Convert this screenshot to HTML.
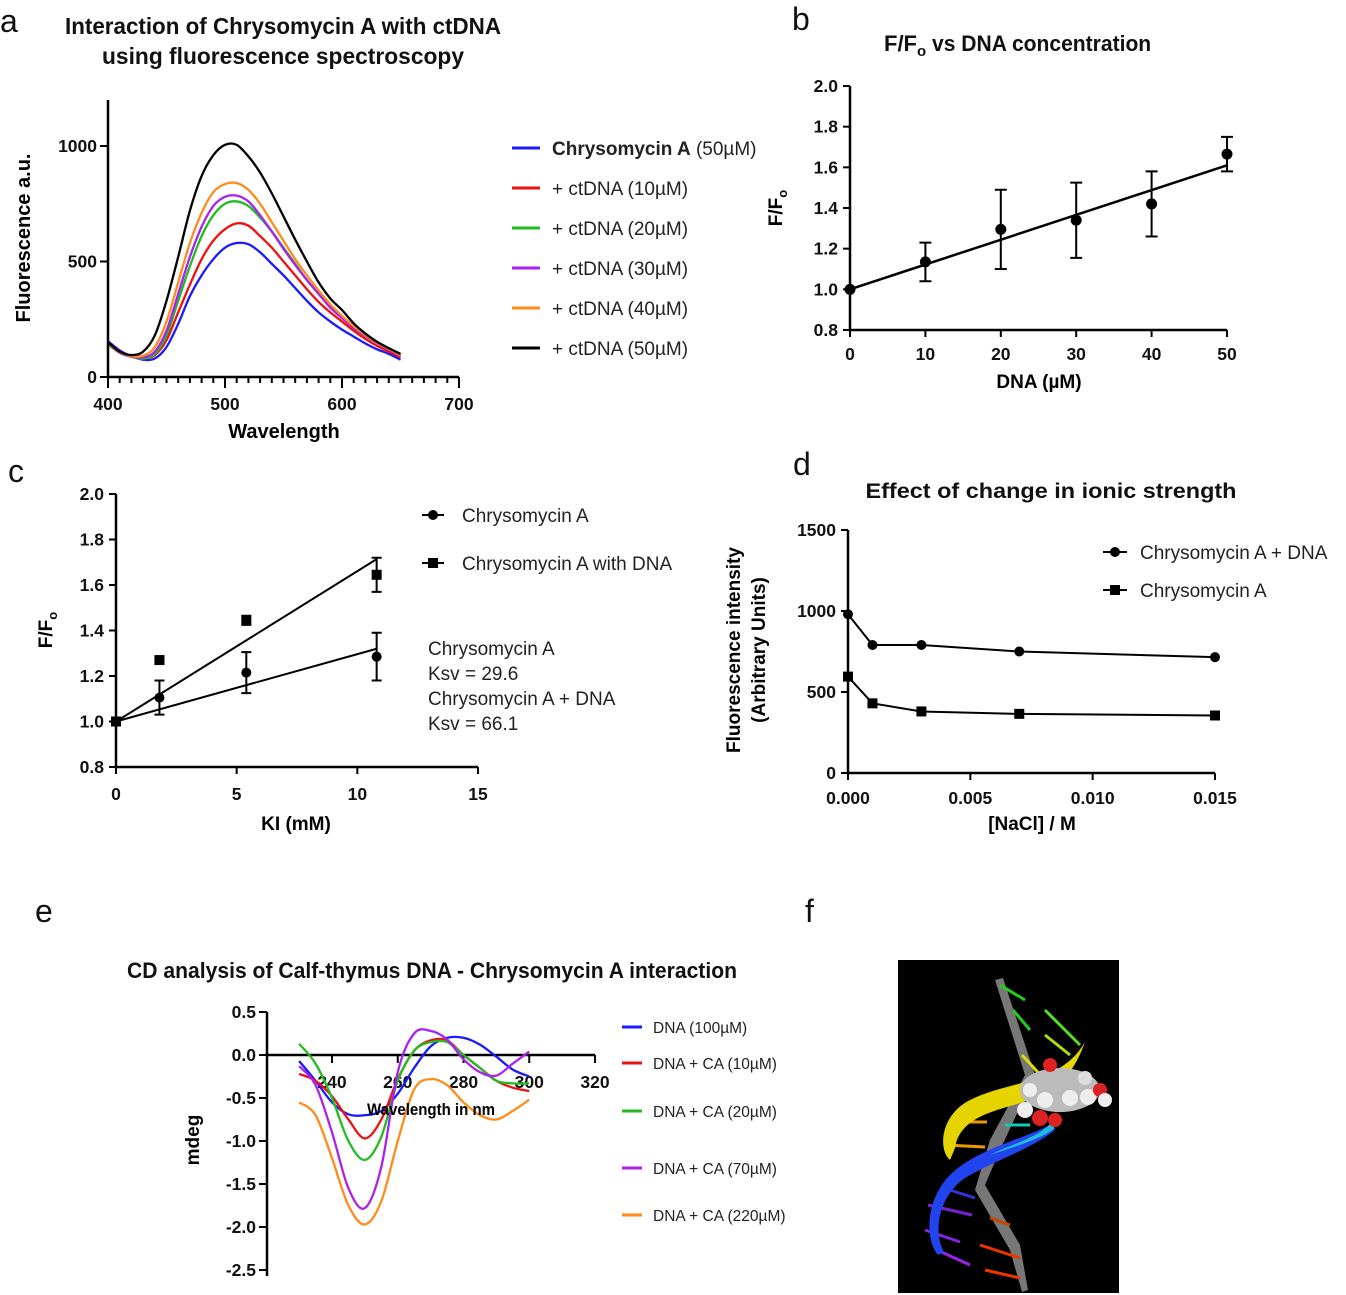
<!DOCTYPE html>
<html><head><meta charset="utf-8"><style>
html,body{margin:0;padding:0;background:#fff}
svg{display:block;font-family:"Liberation Sans",sans-serif}
.tk{font-weight:bold;font-size:17.5px;fill:#111}
.ax{stroke:#000;stroke-width:2.5;fill:none}
.lg{font-size:19px;fill:#222}
</style></head><body>
<svg id="fig" width="1346" height="1295" viewBox="0 0 1346 1295" xmlns="http://www.w3.org/2000/svg">
<g font-size="32" fill="#111">
<text x="0" y="32">a</text>
<text x="792" y="30">b</text>
<text x="8" y="482">c</text>
<text x="793" y="475">d</text>
<text x="35" y="922">e</text>
<text x="805" y="922">f</text>
</g>
<g font-weight="bold" fill="#111">
<text x="283" y="34" font-size="23" text-anchor="middle" textLength="436" lengthAdjust="spacingAndGlyphs">Interaction of Chrysomycin A with ctDNA</text>
<text x="283" y="64" font-size="23" text-anchor="middle" textLength="362" lengthAdjust="spacingAndGlyphs">using fluorescence spectroscopy</text>
<text x="884" y="51" font-size="22">F/F<tspan font-size="15" dy="5">o</tspan><tspan dy="-5" textLength="225" lengthAdjust="spacingAndGlyphs"> vs  DNA concentration</tspan></text>
<text x="1051" y="498" font-size="21" text-anchor="middle" textLength="371" lengthAdjust="spacingAndGlyphs">Effect of change in ionic strength</text>
<text x="432" y="978" font-size="22" text-anchor="middle" textLength="610" lengthAdjust="spacingAndGlyphs">CD analysis of Calf-thymus DNA - Chrysomycin A interaction</text>
</g>
<g id="pa"></g>
<g id="pb"></g>
<g id="pc"></g>
<g id="pd"></g>
<g id="pe"></g>
<g id="pf">
<rect x="898" y="960" width="221" height="333" fill="#000"/>
<path d="M995 980 L1003 978 L1035 1075 L1000 1150 L985 1185 L1020 1245 L1028 1290 L1022 1292 L1010 1250 L975 1190 L990 1140 L1025 1075 Z" fill="#777"/>
<g stroke-width="3">
<line x1="1000" y1="985" x2="1025" y2="1000" stroke="#2c2"/><line x1="1013" y1="1010" x2="1030" y2="1030" stroke="#2c2"/>
<line x1="1045" y1="1010" x2="1080" y2="1045" stroke="#5d2"/><line x1="1045" y1="1035" x2="1070" y2="1055" stroke="#ad1"/>
<line x1="1022" y1="1055" x2="1045" y2="1080" stroke="#dd0"/><line x1="960" y1="1122" x2="987" y2="1122" stroke="#e90"/>
<line x1="945" y1="1145" x2="985" y2="1147" stroke="#e90"/><line x1="1005" y1="1125" x2="1030" y2="1125" stroke="#1cb"/>
<line x1="950" y1="1190" x2="975" y2="1198" stroke="#33d"/><line x1="928" y1="1205" x2="972" y2="1215" stroke="#72c"/>
<line x1="925" y1="1230" x2="960" y2="1242" stroke="#82d"/><line x1="937" y1="1250" x2="970" y2="1265" stroke="#92e"/>
<line x1="990" y1="1218" x2="1010" y2="1225" stroke="#c40"/><line x1="980" y1="1245" x2="1020" y2="1258" stroke="#e30"/>
<line x1="985" y1="1270" x2="1020" y2="1278" stroke="#e30"/>
</g>
<path d="M1085 1042 C1060 1085 1010 1080 970 1100 C940 1115 938 1150 950 1160 L955 1148 C960 1115 1000 1110 1030 1100 C1060 1090 1075 1070 1085 1042 Z" fill="#e6d400"/>
<path d="M1050 1125 C1020 1140 975 1150 950 1175 C925 1200 925 1240 938 1255 L944 1252 C932 1230 940 1195 965 1178 C995 1160 1030 1150 1055 1130 Z" fill="#2244ee"/>
<path d="M1055 1128 C1040 1140 1010 1148 990 1155 L1000 1150 C1020 1142 1040 1135 1050 1124 Z" fill="#2bd"/>
<g>
<ellipse cx="1060" cy="1090" rx="40" ry="22" fill="#bbb"/>
<circle cx="1025" cy="1110" r="8" fill="#eee"/><circle cx="1040" cy="1118" r="8" fill="#d22"/><circle cx="1055" cy="1120" r="7" fill="#d22"/>
<circle cx="1045" cy="1100" r="8" fill="#eee"/><circle cx="1070" cy="1098" r="8" fill="#eee"/><circle cx="1088" cy="1097" r="8" fill="#eee"/>
<circle cx="1100" cy="1090" r="7" fill="#d22"/><circle cx="1105" cy="1100" r="7" fill="#eee"/><circle cx="1050" cy="1065" r="7" fill="#d22"/>
<circle cx="1030" cy="1090" r="7" fill="#eee"/><circle cx="1085" cy="1078" r="7" fill="#ddd"/>
</g>
</g>
</svg>
<script>
const NS='http://www.w3.org/2000/svg';
function el(parent,tag,attrs,text){const e=document.createElementNS(NS,tag);for(const k in attrs)e.setAttribute(k,attrs[k]);if(text!==undefined)e.textContent=text;parent.appendChild(e);return e;}
function lin(d0,d1,r0,r1){return v=>r0+(v-d0)*(r1-r0)/(d1-d0);}
function smooth(pts){let d='M'+pts[0][0]+' '+pts[0][1];for(let i=0;i<pts.length-1;i++){const p0=pts[Math.max(i-1,0)],p1=pts[i],p2=pts[i+1],p3=pts[Math.min(i+2,pts.length-1)];d+=' C'+(p1[0]+(p2[0]-p0[0])/6)+' '+(p1[1]+(p2[1]-p0[1])/6)+' '+(p2[0]-(p3[0]-p1[0])/6)+' '+(p2[1]-(p3[1]-p1[1])/6)+' '+p2[0]+' '+p2[1];}return d;}

/* ---------- Panel a ---------- */
const aWave=[400,410,420,430,440,450,460,470,480,490,500,510,520,530,540,550,560,570,580,590,600,610,620,630,640,650];
const aBlue=[155,115,90,75,80,130,230,350,440,510,560,580,575,540,490,440,385,330,280,240,205,175,145,120,100,75];
const aRed=[150,110,88,80,95,160,280,400,510,590,640,665,655,610,560,500,440,380,325,280,240,200,165,135,110,85];
const aGreen=[140,105,88,80,100,180,330,480,610,700,750,760,740,690,630,560,490,420,360,305,260,215,180,150,120,95];
const aPurple=[145,105,88,85,110,200,360,520,650,740,780,785,760,700,630,555,485,420,360,300,255,212,178,148,120,92];
const aOrange=[145,108,90,92,130,240,410,580,710,800,835,840,810,750,670,590,510,440,375,315,265,220,182,150,122,95];
const aBlack=[150,110,95,110,180,330,520,720,870,960,1005,1005,955,885,795,695,595,500,410,340,290,232,188,152,125,100];
const aSeries=[aBlue,aRed,aGreen,aPurple,aOrange,aBlack];
const aColors=['#1a1aff','#ee1111','#22bb22','#aa22ee','#ff8c1a','#000'];
const aLabels=[['Chrysomycin  A',' (50µM)'],['+ ctDNA (10µM)',''],['+ ctDNA (20µM)',''],['+ ctDNA (30µM)',''],['+ ctDNA (40µM)',''],['+ ctDNA (50µM)','']];
const aXTicks=[400,500,600,700], aYTicks=[0,500,1000];
(function(){
 const g=document.getElementById('pa');
 const X=lin(400,700,108,459),Y=lin(0,1000,377,146);
 aSeries.forEach((s,i)=>{const p=el(g,'path',{d:smooth(aWave.map((w,j)=>[X(w),Y(s[j])])),fill:'none',stroke:aColors[i],'stroke-width':2.3});
  
  });
 el(g,'path',{d:'M108 100 V377 H459',class:'ax'});
 for(let w=400;w<=700;w+=10){el(g,'line',{x1:X(w),x2:X(w),y1:377,y2:w%100?383:388,stroke:'#000','stroke-width':2});}
 aXTicks.forEach(t=>el(g,'text',{x:X(t),y:410,class:'tk','text-anchor':'middle'},t));
 aYTicks.forEach(t=>{el(g,'line',{x1:100,x2:108,y1:Y(t),y2:Y(t),stroke:'#000','stroke-width':2});el(g,'text',{x:97,y:Y(t)+6,class:'tk','text-anchor':'end'},t);});
 const xt=el(g,'text',{x:284,y:438,'font-size':20,'font-weight':'bold','text-anchor':'middle'},'Wavelength');
 
 const yt=el(g,'text',{x:30,y:238,'font-size':20,'font-weight':'bold','text-anchor':'middle',transform:'rotate(-90 30 238)'},'Fluorescence a.u.');
 
 aLabels.forEach((l,i)=>{const y=148+i*40;const lg=el(g,'g',{});
  
  el(lg,'line',{x1:512,x2:540,y1:y,y2:y,stroke:aColors[i],'stroke-width':3});
  const t=el(lg,'text',{x:552,y:y+7,class:'lg'});el(t,'tspan',{'font-weight':i==0?'bold':'normal'},l[0]);if(l[1])el(t,'tspan',{},l[1]);});
})();

/* ---------- Panel b ---------- */
const bX=[0,10,20,30,40,50];
const bY=[1.0,1.135,1.295,1.34,1.42,1.665];
const bErr=[0,0.095,0.195,0.185,0.16,0.085];
const bFit=[1.0,1.61];
const bYTicks=['0.8','1.0','1.2','1.4','1.6','1.8','2.0'];
(function(){
 const g=document.getElementById('pb');
 const X=lin(0,50,850,1227),Y=lin(0.8,2.0,330,86);
 el(g,'path',{d:'M850 86 V330 H1227',class:'ax'});
 bYTicks.forEach(t=>{el(g,'line',{x1:843,x2:850,y1:Y(+t),y2:Y(+t),stroke:'#000','stroke-width':2});el(g,'text',{x:838,y:Y(+t)+6,class:'tk','text-anchor':'end'},t);});
 bX.forEach(t=>{el(g,'line',{x1:X(t),x2:X(t),y1:330,y2:337,stroke:'#000','stroke-width':2});el(g,'text',{x:X(t),y:360,class:'tk','text-anchor':'middle'},t);});
 const f=el(g,'line',{x1:X(0),y1:Y(bFit[0]),x2:X(50),y2:Y(bFit[1]),stroke:'#000','stroke-width':2.5});
 
 bX.forEach((x,i)=>{const px=X(x);if(bErr[i]>0){el(g,'path',{d:`M${px} ${Y(bY[i]-bErr[i])}V${Y(bY[i]+bErr[i])}M${px-6} ${Y(bY[i]-bErr[i])}H${px+6}M${px-6} ${Y(bY[i]+bErr[i])}H${px+6}`,stroke:'#000','stroke-width':2,fill:'none'});}
  const c=el(g,'circle',{cx:px,cy:Y(bY[i]),r:5.5,fill:'#000'});
  });
 el(g,'text',{x:1039,y:388,'font-size':19,'font-weight':'bold','text-anchor':'middle'},'DNA (µM)');
 const yt=el(g,'text',{x:782,y:208,'font-size':19,'font-weight':'bold','text-anchor':'middle',transform:'rotate(-90 782 208)'});
 el(yt,'tspan',{},'F/F');el(yt,'tspan',{'font-size':13,dy:5},'o');
 
})();

/* ---------- Panel c ---------- */
const cX=[0,1.8,5.4,10.8];
const cCircY=[1.0,1.105,1.215,1.285];
const cCircErr=[0,0.075,0.09,0.105];
const cSqY=[1.0,1.27,1.445,1.645];
const cSqErr=[0,0.015,0.02,0.075];
const cKsv=[29.6,66.1];
const cXTicks=[0,5,10,15];
const cYTicks=['0.8','1.0','1.2','1.4','1.6','1.8','2.0'];
(function(){
 const g=document.getElementById('pc');
 const X=lin(0,15,116,478),Y=lin(0.8,2.0,767,494);
 el(g,'path',{d:'M116 494 V767 H478',class:'ax'});
 cYTicks.forEach(t=>{el(g,'line',{x1:109,x2:116,y1:Y(+t),y2:Y(+t),stroke:'#000','stroke-width':2});el(g,'text',{x:104,y:Y(+t)+6,class:'tk','text-anchor':'end'},t);});
 cXTicks.forEach(t=>{el(g,'line',{x1:X(t),x2:X(t),y1:767,y2:774,stroke:'#000','stroke-width':2});el(g,'text',{x:X(t),y:800,class:'tk','text-anchor':'middle'},t);});
 cKsv.forEach((k,i)=>{const l=el(g,'line',{x1:X(0),y1:Y(1),x2:X(10.8),y2:Y(1+k/1000*10.8),stroke:'#000','stroke-width':2});
  });
 function eb(px,y,e){if(e>0)el(g,'path',{d:`M${px} ${Y(y-e)}V${Y(y+e)}M${px-5} ${Y(y-e)}H${px+5}M${px-5} ${Y(y+e)}H${px+5}`,stroke:'#000','stroke-width':2,fill:'none'});}
 cX.forEach((x,i)=>{const px=X(x);eb(px,cCircY[i],cCircErr[i]);eb(px,cSqY[i],cSqErr[i]);
  const c=el(g,'circle',{cx:px,cy:Y(cCircY[i]),r:5,fill:'#000'});
  const s=el(g,'rect',{x:px-5,y:Y(cSqY[i])-5,width:10,height:10,fill:'#000'});});
 el(g,'text',{x:296,y:830,'font-size':19,'font-weight':'bold','text-anchor':'middle'},'KI (mM)');
 const yt=el(g,'text',{x:52,y:630,'font-size':19,'font-weight':'bold','text-anchor':'middle',transform:'rotate(-90 52 630)'});
 el(yt,'tspan',{},'F/F');el(yt,'tspan',{'font-size':13,dy:5},'o');
 const l1=el(g,'g',{});
 el(l1,'line',{x1:422,x2:444,y1:515,y2:515,stroke:'#000','stroke-width':2});el(l1,'circle',{cx:433,cy:515,r:5});
 el(l1,'text',{x:462,y:522,class:'lg'},'Chrysomycin A');
 const l2=el(g,'g',{});
 el(l2,'line',{x1:422,x2:444,y1:563,y2:563,stroke:'#000','stroke-width':2});el(l2,'rect',{x:428,y:558,width:10,height:10});
 el(l2,'text',{x:462,y:570,class:'lg'},'Chrysomycin A with DNA');
 const an=['Chrysomycin A','Ksv = '+cKsv[0],'Chrysomycin A + DNA','Ksv = '+cKsv[1]];
 an.forEach((t,i)=>{const a=el(g,'text',{x:428,y:655+i*25,class:'lg'},t);});
})();

/* ---------- Panel d ---------- */
const dX=[0,0.001,0.003,0.007,0.015];
const dDNA=[980,790,790,750,715];
const dCA=[595,430,380,365,355];
const dXTicks=['0.000','0.005','0.010','0.015'];
const dYTicks=[0,500,1000,1500];
(function(){
 const g=document.getElementById('pd');
 const X=lin(0,0.015,848,1215),Y=lin(0,1500,773,530);
 el(g,'path',{d:'M848 530 V773 H1215',class:'ax'});
 dYTicks.forEach(t=>{el(g,'line',{x1:841,x2:848,y1:Y(t),y2:Y(t),stroke:'#000','stroke-width':2});el(g,'text',{x:836,y:Y(t)+6,class:'tk','text-anchor':'end'},t);});
 dXTicks.forEach(t=>{el(g,'line',{x1:X(+t),x2:X(+t),y1:773,y2:780,stroke:'#000','stroke-width':2});el(g,'text',{x:X(+t),y:804,class:'tk','text-anchor':'middle'},t);});
 const p1=el(g,'polyline',{points:dX.map((x,i)=>X(x)+','+Y(dDNA[i])).join(' '),fill:'none',stroke:'#000','stroke-width':2});
 
 const p2=el(g,'polyline',{points:dX.map((x,i)=>X(x)+','+Y(dCA[i])).join(' '),fill:'none',stroke:'#000','stroke-width':2});
 
 dX.forEach((x,i)=>{el(g,'circle',{cx:X(x),cy:Y(dDNA[i]),r:5});el(g,'rect',{x:X(x)-5,y:Y(dCA[i])-5,width:10,height:10});});
 el(g,'text',{x:1032,y:830,'font-size':19,'font-weight':'bold','text-anchor':'middle'},'[NaCl] / M');
 el(g,'text',{x:740,y:650,'font-size':19,'font-weight':'bold','text-anchor':'middle',transform:'rotate(-90 740 650)'},'Fluorescence intensity');
 el(g,'text',{x:765,y:650,'font-size':19,'font-weight':'bold','text-anchor':'middle',transform:'rotate(-90 765 650)'},'(Arbitrary Units)');
 const l1=el(g,'g',{});
 el(l1,'line',{x1:1103,x2:1127,y1:552,y2:552,stroke:'#000','stroke-width':2});el(l1,'circle',{cx:1115,cy:552,r:5});
 el(l1,'text',{x:1140,y:559,class:'lg'},'Chrysomycin A + DNA');
 const l2=el(g,'g',{});
 el(l2,'line',{x1:1103,x2:1127,y1:590,y2:590,stroke:'#000','stroke-width':2});el(l2,'rect',{x:1110,y:585,width:10,height:10});
 el(l2,'text',{x:1140,y:597,class:'lg'},'Chrysomycin A');
})();

/* ---------- Panel e ---------- */
const eWave=[230,235,240,245,250,255,260,265,270,275,280,285,290,295,300];
const eBlue=[-0.07,-0.3,-0.55,-0.69,-0.7,-0.65,-0.45,-0.15,0.1,0.2,0.2,0.12,-0.02,-0.17,-0.25];
const eRed=[-0.22,-0.3,-0.48,-0.75,-0.97,-0.75,-0.28,0.05,0.17,0.17,0.0,-0.15,-0.3,-0.38,-0.42];
const eGreen=[0.13,-0.1,-0.5,-1.0,-1.22,-0.95,-0.3,0.05,0.15,0.15,0.0,-0.15,-0.3,-0.33,-0.33];
const ePurple=[-0.13,-0.35,-0.9,-1.55,-1.78,-1.3,-0.2,0.25,0.28,0.18,-0.05,-0.2,-0.24,-0.1,0.04];
const eOrange=[-0.55,-0.7,-1.2,-1.75,-1.97,-1.7,-1.0,-0.4,-0.28,-0.35,-0.55,-0.7,-0.75,-0.65,-0.52];
const eSeries=[eBlue,eRed,eGreen,ePurple,eOrange];
const eColors=['#1a1aff','#ee1111','#22bb22','#aa22ee','#ff8c1a'];
const eLabels=['DNA (100µM)','DNA + CA (10µM)','DNA + CA (20µM)','DNA + CA (70µM)','DNA + CA (220µM)'];
const eLegendY=[1027,1063,1111,1168,1215];
const eXTicks=[240,260,280,300,320];
const eYTicks=['0.5','0.0','-0.5','-1.0','-1.5','-2.0','-2.5'];
(function(){
 const g=document.getElementById('pe');
 const X=lin(240,320,332,595),Y=lin(0,0.5,1055,1012);
 el(g,'path',{d:'M267 1012 V1276',class:'ax'});
 el(g,'line',{x1:267,x2:595,y1:1055,y2:1055,stroke:'#000','stroke-width':2.5});
 eYTicks.forEach(t=>{el(g,'line',{x1:259,x2:267,y1:Y(+t),y2:Y(+t),stroke:'#000','stroke-width':2});el(g,'text',{x:256,y:Y(+t)+6,class:'tk','text-anchor':'end','font-size':16},t);});
 eXTicks.forEach(t=>{el(g,'line',{x1:X(t),x2:X(t),y1:1055,y2:1063,stroke:'#000','stroke-width':2});el(g,'text',{x:X(t),y:1088,class:'tk','text-anchor':'middle'},t);});
 eSeries.forEach((s,i)=>{const p=el(g,'path',{d:smooth(eWave.map((w,j)=>[X(w),Y(s[j])])),fill:'none',stroke:eColors[i],'stroke-width':2.3});
  });
 el(g,'text',{x:431,y:1115,'font-size':17,'font-weight':'bold','text-anchor':'middle',textLength:128,lengthAdjust:'spacingAndGlyphs'},'Wavelength in nm');
 el(g,'text',{x:199,y:1140,'font-size':19,'font-weight':'bold','text-anchor':'middle',transform:'rotate(-90 199 1140)'},'mdeg');
 eLabels.forEach((l,i)=>{const y=eLegendY[i];const lg=el(g,'g',{});
  
  el(lg,'line',{x1:622,x2:642,y1:y,y2:y,stroke:eColors[i],'stroke-width':3});
  el(lg,'text',{x:653,y:y+6,'font-size':15.5,fill:'#222'},l);});
})();
</script>
</body></html>
